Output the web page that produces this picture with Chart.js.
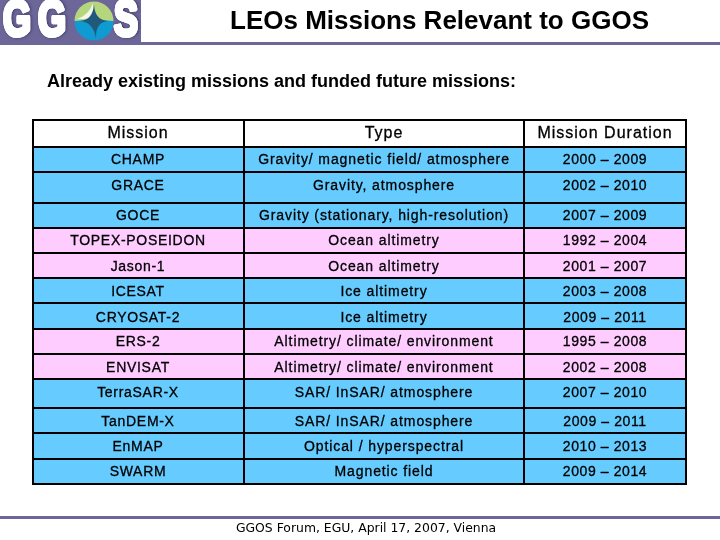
<!DOCTYPE html>
<html>
<head>
<meta charset="utf-8">
<title>LEOs Missions Relevant to GGOS</title>
<script src="https://cdn.jsdelivr.net/npm/chart.js@4"></script>
<style>
  html, body { margin: 0; padding: 0; background: #fff; }
  #wrap { width: 720px; height: 540px; }
</style>
</head>
<body>
<div id="wrap"><canvas id="chart" width="720" height="540"></canvas></div>
<script>
// table content
const headers = ["Mission", "Type", "Mission Duration"];
const missions = ["CHAMP", "GRACE", "GOCE", "TOPEX-POSEIDON", "Jason-1", "ICESAT", "CRYOSAT-2", "ERS-2", "ENVISAT", "TerraSAR-X", "TanDEM-X", "EnMAP", "SWARM"];
const types = [
  "Gravity/ magnetic field/ atmosphere", "Gravity, atmosphere", "Gravity (stationary, high-resolution)",
  "Ocean altimetry", "Ocean altimetry", "Ice altimetry", "Ice altimetry",
  "Altimetry/ climate/ environment", "Altimetry/ climate/ environment",
  "SAR/ InSAR/ atmosphere", "SAR/ InSAR/ atmosphere", "Optical / hyperspectral", "Magnetic field"
];
const durations = ["2000 – 2009", "2002 – 2010", "2007 – 2009", "1992 – 2004", "2001 – 2007", "2003 – 2008", "2009 – 2011", "1995 – 2008", "2002 – 2008", "2007 – 2010", "2009 – 2011", "2010 – 2013", "2009 – 2014"];
const groups = ["gravity", "gravity", "gravity", "ocean", "ocean", "ice", "ice", "climate", "climate", "sar", "sar", "sar", "sar"];

// layout of the slide, in page pixels
const colEdges = [33, 244, 524, 686];
const colCenters = [138, 384, 605];
const colSpacing = ["0.7px", "0.9px", "0.6px"];
const rowEdges = [120, 147, 172, 203, 228, 253, 278, 303, 329, 354, 379, 408, 433, 459, 484];
const textY = [134, 160, 186, 216, 241, 267, 292, 318, 342, 368, 393, 422, 447, 472];

const groupColor = { gravity: "#66CCFF", ocean: "#FFCCFF", ice: "#66CCFF", climate: "#FFCCFF", sar: "#66CCFF" };
const BORDER = 2;
const FRAME = "#6C6699";

// one dataset per table row, each with one floating bar per column
const rowLabels = [headers].concat(missions.map((m, i) => [m, types[i], durations[i]]));
const datasets = rowLabels.map((labels, r) => {
  const top = rowEdges[r], bottom = rowEdges[r + 1];
  return {
    data: labels.map((_, c) => ({
      x: [colEdges[c] - BORDER / 2, colEdges[c + 1] + BORDER / 2],
      y: (top + bottom) / 2
    })),
    barThickness: bottom - top + BORDER,
    backgroundColor: r === 0 ? "#FFFFFF" : groupColor[groups[r - 1]],
    borderColor: "#000000",
    borderWidth: BORDER,
    borderSkipped: false,
    inflateAmount: 0,
    grouped: false
  };
});

function drawText(ctx, text, x, y, font, align, spacing, weight) {
  ctx.font = font;
  ctx.textAlign = align || "center";
  ctx.textBaseline = "middle";
  ctx.letterSpacing = spacing || "0px";
  ctx.fillStyle = "#000";
  ctx.fillText(text, x, y);
  if (weight) {
    // the slide's table text is a little heavier than the regular face
    ctx.strokeStyle = "#000";
    ctx.lineWidth = weight;
    ctx.strokeText(text, x, y);
  }
  ctx.letterSpacing = "0px";
}

function drawLogo(ctx) {
  ctx.fillStyle = FRAME;
  ctx.fillRect(0, 0, 141, 42);
  const letters = [["G", 3], ["G", 38], ["S", 114]];
  letters.forEach(l => {
    ctx.save();
    ctx.translate(l[1], 22);
    ctx.scale(0.72, 1);
    ctx.font = "bold 50px 'Liberation Sans'";
    ctx.textAlign = "left";
    ctx.textBaseline = "middle";
    ctx.strokeStyle = "#FFFFFF";
    ctx.fillStyle = "#FFFFFF";
    ctx.lineWidth = 4;
    ctx.lineJoin = "round";
    // soft dark edge first, then the solid white letter on top
    ctx.shadowColor = "rgba(40,35,70,0.7)";
    ctx.shadowBlur = 3;
    ctx.shadowOffsetX = 1;
    ctx.strokeText(l[0], 0, 0);
    ctx.shadowColor = "transparent";
    ctx.strokeText(l[0], 0, 0);
    ctx.fillText(l[0], 0, 0);
    ctx.restore();
  });
  // globe
  const cx = 94, cy = 21, r = 19.5;
  ctx.fillStyle = "#B6D67E";
  ctx.beginPath(); ctx.arc(cx, cy, r, Math.PI, 0); ctx.fill();
  ctx.fillStyle = "#0F9AD2";
  ctx.beginPath();
  ctx.moveTo(cx - r, cy);
  ctx.quadraticCurveTo(cx, cy - 2, cx + r, cy);
  ctx.arc(cx, cy, r, 0, Math.PI);
  ctx.fill();
  // white crescent in the upper left
  ctx.fillStyle = "#F2F6EC";
  ctx.beginPath();
  ctx.moveTo(cx - 1, cy - 18);
  ctx.quadraticCurveTo(cx - 5, cy - 6, cx - 17, cy - 2);
  ctx.quadraticCurveTo(cx - 3, cy - 2, cx, cy - 4);
  ctx.closePath();
  ctx.fill();
  // four pointed star
  ctx.fillStyle = "#1F5A7C";
  ctx.beginPath();
  ctx.moveTo(cx, cy - 17);
  ctx.quadraticCurveTo(cx + 0.5, cy - 1, cx + 14, cy);
  ctx.quadraticCurveTo(cx + 1.5, cy + 1, cx + 2, cy + 17);
  ctx.quadraticCurveTo(cx - 1, cy + 1, cx - 14, cy);
  ctx.quadraticCurveTo(cx - 1, cy - 1, cx, cy - 17);
  ctx.fill();
}

// slide furniture and all cell text, placed through the chart scales
const slidePlugin = {
  id: "slide",
  afterDatasetsDraw(chart) {
    const ctx = chart.ctx;
    const xs = chart.scales.x, ys = chart.scales.y;
    ctx.save();
    drawLogo(ctx);
    ctx.fillStyle = FRAME;
    ctx.fillRect(xs.getPixelForValue(0), ys.getPixelForValue(42), 720, 3);
    ctx.fillRect(xs.getPixelForValue(0), ys.getPixelForValue(516), 720, 3);

    drawText(ctx, "LEOs Missions Relevant to GGOS", xs.getPixelForValue(439.5), ys.getPixelForValue(22), "bold 26px 'Liberation Sans'");
    drawText(ctx, "Already existing missions and funded future missions:", xs.getPixelForValue(47), ys.getPixelForValue(82), "bold 18px 'Liberation Sans'", "left");
    drawText(ctx, "GGOS Forum, EGU, April 17, 2007, Vienna", xs.getPixelForValue(366), ys.getPixelForValue(529), "12.4px 'DejaVu Sans'");

    rowLabels.forEach((labels, r) => {
      labels.forEach((label, c) => {
        const font = r === 0 ? "16px 'Liberation Sans'" : "14px 'Liberation Sans'";
        const spacing = r === 0 ? "1px" : colSpacing[c];
        drawText(ctx, label, xs.getPixelForValue(colCenters[c]), ys.getPixelForValue(textY[r]), font, "center", spacing, 0.3);
      });
    });
    ctx.restore();
  }
};

new Chart(document.getElementById("chart").getContext("2d"), {
  type: "bar",
  data: { datasets },
  options: {
    indexAxis: "y",
    responsive: false,
    animation: false,
    layout: { padding: 0 },
    plugins: { legend: { display: false }, tooltip: { enabled: false }, title: { display: false } },
    scales: {
      x: { type: "linear", min: 0, max: 720, display: false, offset: false },
      y: { type: "linear", min: 0, max: 540, reverse: true, display: false, offset: false }
    }
  },
  plugins: [slidePlugin]
});
</script>
</body>
</html>
